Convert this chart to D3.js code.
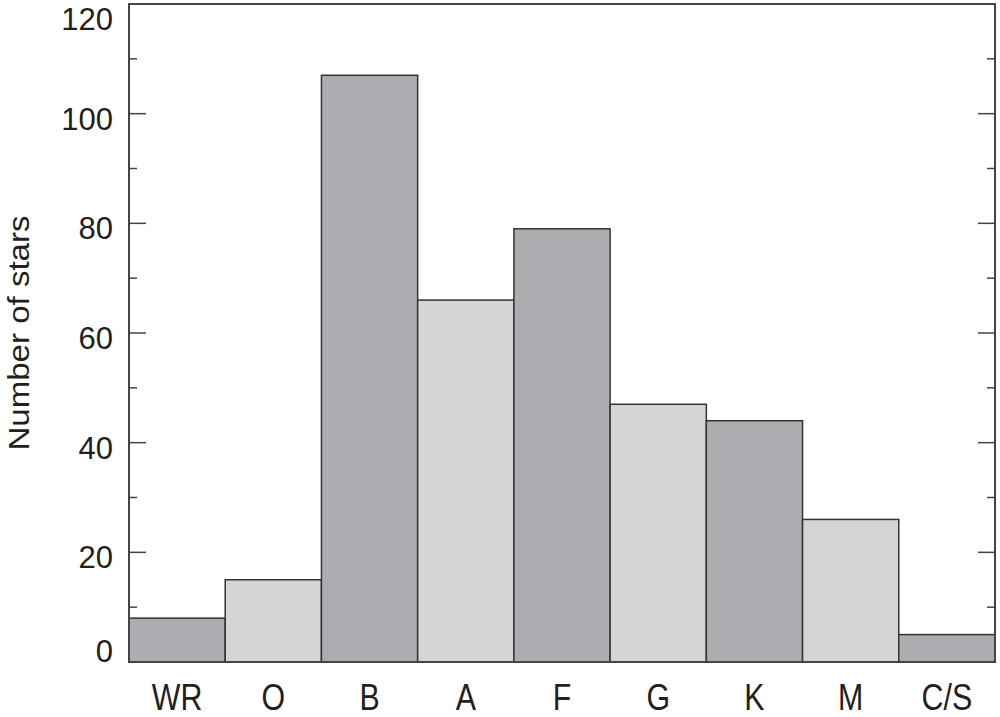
<!DOCTYPE html>
<html>
<head>
<meta charset="utf-8">
<script src="https://cdn.jsdelivr.net/npm/d3@7"></script>
<style>
  body { margin: 0; background: #fff; }
  text { font-family: "Liberation Sans", Arial, sans-serif; fill: #231f20; }
</style>
</head>
<body>
<div class="chart"></div>
<script>
// spectral types and counts
const types = ["WR", "O", "B", "A", "F", "G", "K", "M", "C/S"];
const counts = [8, 15, 107, 66, 79, 47, 44, 26, 5];
const yMajor = [0, 20, 40, 60, 80, 100, 120];
const yMinor = [10, 30, 50, 70, 90, 110];

function init(){
    createChart(".chart");
}

function createChart(id){
    const W = 1000, H = 717;
    const margin = {top: 4, right: 5, bottom: 55, left: 129};
    const width = W - margin.left - margin.right,
          height = H - margin.top - margin.bottom;

    const svg = d3.select(id)
        .append("svg")
        .attr("width", W)
        .attr("height", H);

    const g = svg.append("g")
        .attr("transform", `translate(${margin.left}, ${margin.top})`);

    const x = d3.scaleBand().domain(types).range([0, width]).padding(0);
    const y = d3.scaleLinear().domain([0, 120]).range([height, 0]);

    // bars, alternating dark / light
    g.selectAll("rect.bar")
        .data(types)
        .join("rect")
        .attr("class", "bar")
        .attr("x", d => x(d))
        .attr("y", (d, i) => y(counts[i]))
        .attr("width", x.bandwidth())
        .attr("height", (d, i) => height - y(counts[i]))
        .attr("fill", (d, i) => i % 2 === 0 ? "#acadb1" : "#d4d5d7")
        .attr("stroke", "#333")
        .attr("stroke-width", 1.5);

    // frame
    g.append("rect")
        .attr("x", 0).attr("y", 0)
        .attr("width", width).attr("height", height)
        .attr("fill", "none")
        .attr("stroke", "#444")
        .attr("stroke-width", 2);

    // inward ticks, left and right
    const ticks = yMajor.map(v => ({v, len: 17})).concat(yMinor.map(v => ({v, len: 8})));
    g.selectAll("line.tl")
        .data(ticks)
        .join("line")
        .attr("class", "tl")
        .attr("x1", 0).attr("x2", d => d.len)
        .attr("y1", d => y(d.v)).attr("y2", d => y(d.v))
        .attr("stroke", "#444").attr("stroke-width", 1.5);
    g.selectAll("line.tr")
        .data(ticks)
        .join("line")
        .attr("class", "tr")
        .attr("x1", width).attr("x2", d => width - d.len)
        .attr("y1", d => y(d.v)).attr("y2", d => y(d.v))
        .attr("stroke", "#444").attr("stroke-width", 1.5);

    // y tick labels, end labels kept inside the frame
    g.selectAll("text.yl")
        .data(yMajor)
        .join("text")
        .attr("class", "yl")
        .attr("x", -16)
        .attr("y", d => Math.min(Math.max(y(d) + 5, y(120) + 15), y(0) - 11) + 11)
        .attr("text-anchor", "end")
        .attr("font-size", 31)
        .text(d => d);

    // x labels
    g.selectAll("text.xl")
        .data(types)
        .join("text")
        .attr("class", "xl")
        .attr("text-anchor", "middle")
        .attr("font-size", 37)
        .attr("transform", d => `translate(${x(d) + x.bandwidth() / 2}, ${height + 48}) scale(0.82,1)`)
        .text(d => d);

    // y axis title
    svg.append("text")
        .attr("transform", `translate(29, ${margin.top + height / 2}) rotate(-90)`)
        .attr("text-anchor", "middle")
        .attr("font-size", 30)
        .attr("textLength", 235)
        .attr("lengthAdjust", "spacingAndGlyphs")
        .text("Number of stars");
}

init();
</script>
</body>
</html>
